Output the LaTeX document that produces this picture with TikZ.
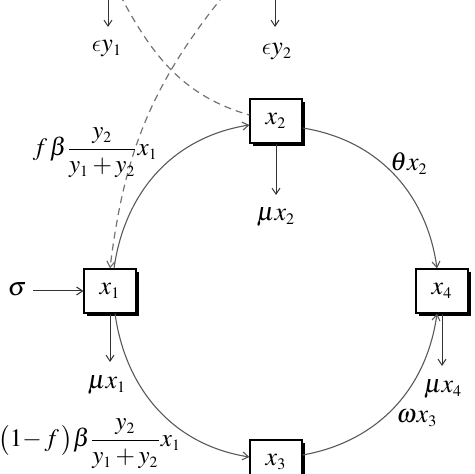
\documentclass[tikz,border=0pt]{standalone}
\usepackage{mathptmx}
\DeclareMathSizes{13}{13}{8}{6}
\DeclareMathSizes{12.5}{12.5}{7.8}{6}
\DeclareSymbolFont{cmlett}{OML}{cmm}{m}{it}
\DeclareMathSymbol{\lunateps}{\mathord}{cmlett}{"0F}
\usetikzlibrary{arrows.meta,shadows}
\begin{document}
\begin{tikzpicture}[x=0.5pt,y=-0.5pt,font=\fontsize{13}{15}\selectfont,
  state/.style={draw=black,line width=0.6pt,fill=white,minimum width=26pt,minimum height=22pt,inner sep=0pt,
    drop shadow={shadow xshift=1.5pt,shadow yshift=-1.5pt,fill=black,opacity=1}},
  tip/.style={-{Straight Barb[length=3pt,width=4pt]}},
  flow/.style={draw=black!80,line width=0.5pt,tip},
  arcflow/.style={draw=black!65,line width=0.55pt,tip},
  dflow/.style={draw=black!55,line width=0.6pt,dash pattern=on 3.5pt off 2.5pt},
  lab/.style={inner sep=0pt},
  fraclab/.style={inner sep=0pt,font=\fontsize{12.5}{14}\selectfont}]
\useasboundingbox (0,0) rectangle (474,474);
\clip (0,0) rectangle (474,474);
% states
\node[state] (x1) at (110,291) {$x_1$};
\node[state] (x2) at (276,121) {$x_2$};
\node[state] (x3) at (276,462) {$x_3$};
\node[state] (x4) at (442,291) {$x_4$};
% circular flows
\draw[arcflow] ([xshift=2pt]x1.north) to[out=82,in=189] ([yshift=-2pt]x2.west);
\draw[arcflow] ([yshift=-3.5pt]x2.east) to[out=-9,in=98] ([xshift=-2.5pt]x4.north);
\draw[arcflow] ([xshift=2.5pt]x1.south) to[out=-82,in=171] ([yshift=2.5pt]x3.west);
\draw[arcflow] ([yshift=3.5pt]x3.east) to[out=10,in=262] ([xshift=-2.5pt]x4.south);
% top arrows (from off-picture)
\coordinate (t1) at (108,-5); \coordinate (e1) at (108,27);
\coordinate (t2) at (275,-5); \coordinate (e2) at (275,27);
\draw[flow] (t1) -- (e1);
\draw[flow] (t2) -- (e2);
\node[lab] (ley1) at (107,49) {$\lunateps y_1$};
\node[lab] (ley2) at (277,52) {$\lunateps y_2$};
% dashed infection paths
\coordinate (d1) at (120,-5);
\coordinate (d2) at (224,-5);
\draw[dflow] (d1) to[out=-62,in=164] ([yshift=3pt]x2.west);
\draw[dflow,tip] (d2) to[out=231,in=83] (x1.north);
% inflow and outflows
\coordinate (s) at (33,291);
\draw[flow] (s) -- (x1.west);
\node[lab] (lsig) at (17,289) {$\sigma$};
\coordinate (m1) at (110,362); \draw[flow] (x1.south) -- (m1);
\coordinate (m2) at (276,195); \draw[flow] (x2.south) -- (m2);
\coordinate (m4) at (442,366); \draw[flow] (x4.south) -- (m4);
\node[lab] (lm1) at (107,385) {$\mu x_1$};
\node[lab] (lm2) at (276,217) {$\mu x_2$};
\node[lab] (lm4) at (443,389) {$\mu x_4$};
% rate labels
\node[lab] (lth) at (409,164) {$\theta x_2$};
\node[lab] (lom) at (417,418) {$\omega x_3$};
\node[fraclab,anchor=east] (lfb) at (158,153) {$f\,\beta\displaystyle\frac{y_2}{y_1+y_2}x_1$};
\node[fraclab,anchor=west] (lfb2) at (-2,444) {$\bigl(1{-}\,f\,\bigr)\beta\displaystyle\frac{y_2}{y_1+y_2}x_1$};
\end{tikzpicture}
\end{document}
